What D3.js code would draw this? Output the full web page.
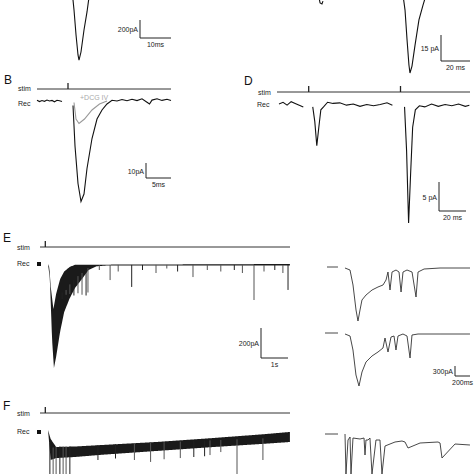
<!DOCTYPE html>
<html><head><meta charset="utf-8">
<script src="https://cdn.jsdelivr.net/npm/d3@7"></script>
<style>body{margin:0;background:#fff}text{font-family:"Liberation Sans",Arial,sans-serif}</style>
</head><body><div id="fig"></div>
<script>
// traces: [time, current], null = gap
const traceA = [[0,0],[0.65,-222],[1.3,-500],[1.94,-722],[2.26,-778],[2.9,-689],[3.87,-444],[4.84,-244],[5.8,0]]
const traceC = [[0,0],[1.4,-8.7],[2.8,-26],[4.1,-40.4],[4.8,-45],[6.2,-41],[8.3,-28.9],[11,-14.4],[13.8,-5.8],[15.9,0]]
const traceChook = [[-57.9,-1.7],[-57.2,-4.6],[-55.9,-5.2],[-55.2,-3.5]]
const traceB = [[0,0.5],[0.5,-0.4],[1,0.3],[1.5,-0.2],[2,0.6],[2.5,0],[3,0.4],[3.5,-0.5],[4,0.5],[4.5,0.2],[5,-0.3],null,
  [7.2,-3],[7.6,-30],[8.2,-55],[8.8,-67],[9.4,-62],[10,-45],[11,-25],[12,-12],[13,-6],[14,-2],[15,0.5],[16,0],[17,1],[18,0.2],
  [19,1.2],[20,0.3],[21,1.5],[22,-0.8],[22.5,-2],[23,0.6],[24,1.5],[25,0.4],[26,1.2],[26.8,0.3]]
const traceBdcg = [[7.4,-1],[7.8,-12],[8.4,-15],[9.5,-12],[11,-6],[12.5,-2],[14,0]]
const traceD = [[0,0],[3,0.3],[6,-0.2],[9,0.4],[12,0.1],[15,-0.2],[18,-0.5],null,[25,-0.5],[26.5,-3],[28,-7.2],[29.5,-4],[31,-1],
  [33,-0.5],[36,0.3],[40,0.1],[45,0.2],[50,-0.2],[55,0],[60,-0.4],[65,-0.1],[70,-0.3],[75,-0.1],[80,0.2],[84,-0.2],null,
  [93,-0.5],[94.5,-8],[96,-20.5],[97.5,-12],[99,-4],[101,-1],[104,-0.3],[108,-0.5],[113,0],[118,-0.4],[123,-0.1],[128,-0.3],
  [133,0],[138,-0.4],[141,-0.2]]
const stimB = [6.2], stimD = [22, 90], stimE = [0]
// panel E (s, pA): envelope of overlaid sweeps and spontaneous events
const eLower = [[0,0],[0.07,-100],[0.15,-500],[0.22,-693],[0.3,-620],[0.45,-450],[0.6,-320],[0.8,-230],[1,-160],[1.3,-90],[1.5,-40],[1.8,-15],[2.2,-10],[8.96,-10]]
const eUpper = [[0,0],[0.05,-20],[0.1,-150],[0.2,-300],[0.3,-200],[0.45,-100],[0.6,-50],[0.8,-20],[1,-5],[8.96,0]]
const eSpikes = [[0.52,-190],[0.67,-205],[0.81,-200],[0.96,-210],[1.11,-195],[1.26,-205],[1.41,-210],[1.48,-190],
  [2.3,-107],[3.1,-153],[5.37,-87],[7.63,-240],[8.89,-173],[1.9,-40],[2.6,-50],[3.5,-40],[4.0,-60],[4.4,-30],[4.8,-50],
  [5.9,-40],[6.4,-50],[6.9,-40],[7.2,-60],[8.0,-50],[8.4,-40],[8.7,-60]]
const eInset1 = [[0,0],[146,0],null,[239,-30],[306,-90],[346,-540],[386,-1290],[412,-1620],[439,-1290],[465,-990],[519,-840],
  [599,-690],[678,-600],[745,-540],[785,-390],[811,-150],[838,-690],[865,-150],[918,-90],[958,-150],[985,-750],[1011,-150],
  [1064,-90],[1131,-150],[1184,-900],[1211,-150],[1291,-60],[1503,-30],[1902,-30]]
const eInset2 = [[0,0],[173,0],null,[266,-30],[333,-90],[372,-510],[412,-1260],[452,-1590],[492,-1170],[545,-870],[625,-690],
  [705,-570],[771,-450],[798,-150],[838,-570],[878,-120],[918,-90],[944,-510],[971,-90],[1037,-30],[1091,-90],[1131,-750],
  [1157,-60],[1237,-30],[1530,-30],[1928,-30]]
// panel F
const fUpper = [[0,0],[0.1,-60],[0.3,-113],[1,-110],[2,-100],[4,-80],[6,-55],[8,-28],[8.96,-13]]
const fLower = [[0,0],[0.1,-200],[0.3,-187],[1,-180],[2,-165],[4,-140],[6,-115],[8,-92],[8.96,-80]]
const fSpikes = [[0.07,-300],[0.19,-300],[0.3,-300],[0.44,-300],[0.56,-300],[0.67,-300],[0.81,-300],[7.0,-300],[7.96,-200],
  [1.85,-200],[3.8,-213],[4.9,-187],[5.4,-180],[6.0,-167],[6.4,-147],[2.5,-190],[3.2,-200],[4.3,-195],[5.8,-175]]
const fInset = [[0,0],[173,0],null,[266,0],[279,-1200],[306,-180],[333,-90],[346,-1200],[372,-120],[466,-150],[519,-120],
  [532,-630],[545,-180],[572,-180],[598,-120],[625,-1200],[678,-180],[731,-180],[758,-1200],[798,-360],[931,-240],[1024,-210],
  [1064,-240],[1104,-420],[1264,-270],[1503,-240],[1530,-270],[1556,-720],[1729,-300],[1928,-330]]

const svg = d3.select('#fig').append('svg').attr('width', 474).attr('height', 474)

// panel scales: x0 px at t=0, px per unit, y0 px at baseline, px per unit current
function sc(x0, kx, y0, ky) {
  return {x: v => x0 + v * kx, y: v => y0 - v * ky}
}
const line = (s) => d3.line().defined(d => d).x(d => s.x(d[0])).y(d => s.y(d[1]))
function trace(data, s, color = '#111', w = 1.1) {
  svg.append('path').attr('d', line(s)(data)).attr('fill', 'none').attr('stroke', color).attr('stroke-width', w)
}
function txt(x, y, t, size = 7, color = '#222', anchor = 'start') {
  svg.append('text').attr('x', x).attr('y', y).attr('font-size', size).attr('fill', color).attr('text-anchor', anchor).text(t)
}
function stim(x1, x2, y, ticks, s) {
  svg.append('line').attr('x1', x1).attr('x2', x2).attr('y1', y).attr('y2', y).attr('stroke', '#333').attr('stroke-width', 1)
  ticks.forEach(t => svg.append('line').attr('x1', s.x(t)).attr('x2', s.x(t)).attr('y1', y - 6).attr('y2', y)
    .attr('stroke', '#222').attr('stroke-width', 1.3))
}
function bar(x, y, w, h, vlab, hlab) {
  svg.append('path').attr('d', `M${x},${y - h}V${y}H${x + w}`).attr('fill', 'none').attr('stroke', '#222').attr('stroke-width', 1)
  txt(x - 2, y - h / 2 + 3, vlab, 7, '#222', 'end')
  txt(x + w / 2, y + 9, hlab, 7, '#222', 'middle')
}
function interp(arr, t) {
  const i = d3.bisector(d => d[0]).left(arr, t)
  if (i <= 0) return arr[0][1]
  if (i >= arr.length) return arr[arr.length - 1][1]
  const a = arr[i - 1], b = arr[i]
  return a[1] + (b[1] - a[1]) * (t - a[0]) / (b[0] - a[0])
}
function band(upper, lower, spikes, s) {
  const ts = d3.range(0, 8.97, 0.02)
  const area = d3.area().x(t => s.x(t)).y0(t => s.y(interp(upper, t))).y1(t => s.y(interp(lower, t)))
  svg.append('path').attr('d', area(ts)).attr('fill', '#1a1a1a')
  spikes.forEach(([t, v], i) => svg.append('line').attr('x1', s.x(t)).attr('x2', s.x(t))
    .attr('y1', s.y(interp(lower, t) * 0.6)).attr('y2', s.y(v)).attr('stroke', i % 3 ? '#555' : '#222').attr('stroke-width', 1))
}

// A
const sA = sc(72, 3.1, -10, 0.09)
trace(traceA, sA)
bar(140, 38, 31, 18, '200pA', '10ms')
// C
const sC = sc(403, 1.45, -5, 1.733)
trace(traceC, sC); trace(traceChook, sC)
bar(441, 61, 29, 26, '15 pA', '20 ms')
// B
const sB = sc(37, 5, 101, 1.5)
txt(4, 84, 'B', 12, '#111')
txt(18, 91, 'stim'); stim(37, 171, 89, stimB, sB)
txt(18, 106, 'Rec')
trace(traceBdcg, sB, '#999')
trace(traceB, sB)
txt(80, 100, '+DCG IV', 7, '#aaa')
bar(146, 178, 25, 15, '10pA', '5ms')
// D
const sD = sc(279, 1.35, 104, 5.8)
txt(244, 85, 'D', 12, '#111')
txt(258, 95, 'stim'); stim(277, 470, 92, stimD, sD)
txt(257, 107, 'Rec')
trace(traceD, sD)
bar(439, 211, 27, 29, '5 pA', '20 ms')
// E
const sE = sc(48, 27, 264, 0.15)
txt(3, 242, 'E', 12, '#111')
txt(17, 250, 'stim'); stim(40, 290, 247, stimE.map(t => t - 0.1), sE)
txt(17, 266, 'Rec')
svg.append('rect').attr('x', 37).attr('y', 262).attr('width', 4).attr('height', 4).attr('fill', '#111')
band(eUpper, eLower, eSpikes, sE)
bar(261, 358, 27, 30, '200pA', '1s')
trace(eInset1, sc(327, 1 / 13.3, 267, 1 / 30), '#333', 0.9)
trace(eInset2, sc(325, 1 / 13.3, 333, 1 / 30), '#333', 0.9)
bar(455, 376, 15, 10, '300pA', '200ms')
// F
const sF = sc(48, 27, 430, 0.15)
txt(3, 410, 'F', 12, '#111')
txt(17, 416, 'stim'); stim(40, 290, 413, stimE.map(t => t - 0.1), sF)
txt(17, 434, 'Rec')
svg.append('rect').attr('x', 37).attr('y', 430).attr('width', 4).attr('height', 4).attr('fill', '#111')
band(fUpper, fLower, fSpikes, sF)
trace(fInset, sc(325, 1 / 13.3, 434, 1 / 30), '#333', 0.9)
</script></body></html>
